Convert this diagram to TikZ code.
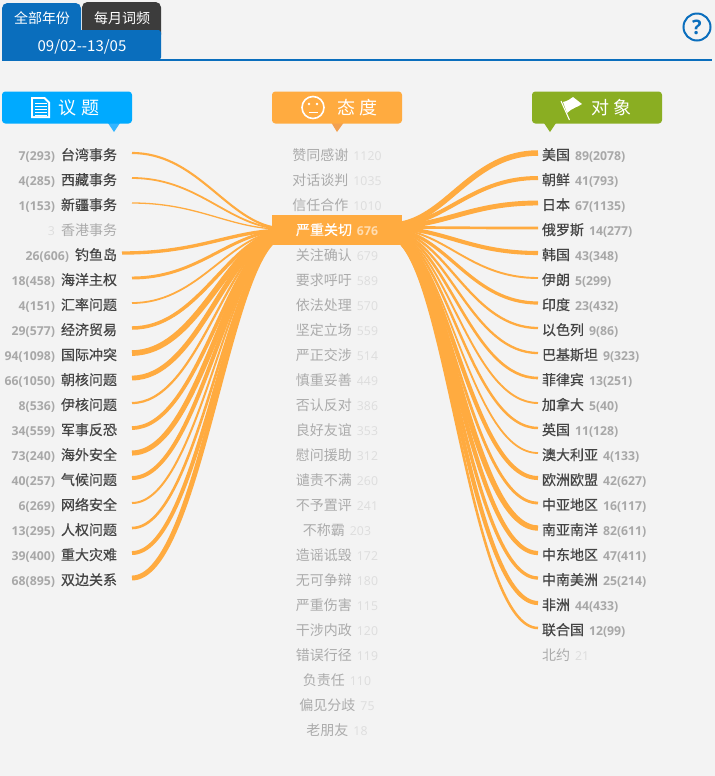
\documentclass[tikz,border=0pt]{standalone}
\usepackage{fontspec}
\setmainfont{Noto Sans CJK SC}
\newfontfamily\cjkb[FakeBold=0.5]{Noto Sans CJK SC}
\newfontfamily\numb{Open Sans}[BoldFont=* Bold]
\definecolor{bg}{HTML}{F3F3F3}
\definecolor{org}{HTML}{FFAB40}
\definecolor{orgd}{HTML}{F2A050}
\definecolor{tabblue}{HTML}{0A6EBD}
\definecolor{tabdark}{HTML}{3C3C3C}
\definecolor{skyb}{HTML}{00AAFF}
\definecolor{skyl}{HTML}{33B5FF}
\definecolor{grn}{HTML}{8AAE22}
\definecolor{darktxt}{HTML}{444444}
\definecolor{midtxt}{HTML}{A8A8A8}
\definecolor{graytxt}{HTML}{ABABAB}
\definecolor{palenum}{HTML}{DDDDDD}
\newcommand{\fs}[1]{\fontsize{#1}{#1}\selectfont}
\newcommand{\lab}[1]{{\cjkb\fs{10.5}\color{darktxt}#1}}
\newcommand{\offlab}[1]{{\fs{10.5}\color{graytxt}#1}}
\newcommand{\num}[1]{{\numb\bfseries\fs{9.2}\color{midtxt}#1}}
\newcommand{\offnum}[1]{{\numb\fs{9.2}\color{palenum}#1}}
\tikzset{
  txt/.style={inner sep=0pt,outer sep=0pt},
  flow/.style={draw=org,line cap=butt},
  head/.style={rounded corners=2.5pt,inner sep=0pt,minimum width=97.5pt,minimum height=24pt,text=white},
  headtxt/.style={txt,text=white,font=\fs{13.5}},
}
\begin{document}
\begin{tikzpicture}[x=0.75pt,y=-0.75pt]
\useasboundingbox (0,0) rectangle (715,776);
\fill[bg] (0,0) rectangle (715,776);
% tabs
\fill[tabblue,rounded corners=4pt] (2,40) -- (2,3) -- (81,3) -- (81,40) -- cycle;
\fill[tabdark,rounded corners=4pt] (82,40) -- (82,2) -- (161,2) -- (161,40) -- cycle;
\fill[tabblue,rounded corners=2pt] (2,60) -- (2,30) -- (161,30) -- (161,60) -- cycle;
\fill[tabblue] (2,40) rectangle (20,60);
\fill[tabblue] (2,59) rectangle (712,61);
\node[txt,text=white,font=\fs{10.5}] (tab1) at (42,18) {全部年份};
\node[txt,text=white,font=\fs{10.5}] (tab2) at (122,18) {每月词频};
\node[txt,text=white,font=\fs{11.25}] (tabd) at (82,46.5) {09/02-{}-13/05};
% help
\draw[tabblue,line width=1.5pt] (697,27) circle[radius=13.5];
\node[txt,text=tabblue,font=\numb\bfseries\fs{15}] (help) at (697,27) {?};
% headers
\fill[skyl] (108,123) -- (120,123) -- (114,132) -- cycle;
\node[head,fill=skyb] (h1) at (67,107.5) {};
\fill[white] (31,97) -- (45,97) -- (50,102) -- (50,118) -- (31,118) -- cycle;
\fill[skyb] (33,99) -- (44,99) -- (48,103) -- (48,116) -- (33,116) -- cycle;
\foreach \yy in {103,106,109,112,114.5} \fill[white] (35,\yy) rectangle (46.5,\yy+1.4);
\node[headtxt,anchor=west] (h1t) at (59,107.5) {议\hspace{3.5pt}题};
\fill[orgd] (331.5,123) -- (343.5,123) -- (337,132) -- cycle;
\node[head,fill=org] (h2) at (337,107.5) {};
\draw[white,line width=1.2pt] (313,107.5) circle[radius=11];
\fill[white] (309,104) circle[radius=1.3] (317,104) circle[radius=1.3];
\fill[white] (308.5,112) rectangle (317.5,113.2);
\node[headtxt,anchor=west] (h2t) at (337,107.5) {态\hspace{3.5pt}度};
\fill[grn] (544,123) -- (556,123) -- (550,132) -- cycle;
\node[head,fill=grn] (h3) at (597,107.5) {};
\draw[white,line width=.8pt] (561,101) -- (569.5,120);
\fill[white] (563,102) .. controls (568,101) and (570,99) .. (573,97) -- (582,104) .. controls (578,107) and (572,108) .. (567,113) -- cycle;
\node[headtxt,anchor=west] (h3t) at (591,107.5) {对\hspace{3.5pt}象};
% centre rows
\node[fill=org,minimum width=97.5pt,minimum height=22.5pt,inner sep=0pt,outer sep=0pt] (hub) at (337,230) {};
\foreach \i/\a/\b in {0/赞同感谢/1120,1/对话谈判/1035,2/信任合作/1010,4/关注确认/679,5/要求呼吁/589,6/依法处理/570,7/坚定立场/559,8/严正交涉/514,9/慎重妥善/449,10/否认反对/386,11/良好友谊/353,12/慰问援助/312,13/谴责不满/260,14/不予置评/241,15/不称霸/203,16/造谣诋毁/172,17/无可争辩/180,18/严重伤害/115,19/干涉内政/120,20/错误行径/119,21/负责任/110,22/偏见分歧/75,23/老朋友/18}{
  \node[txt,anchor=base] (c\i) at (337,160+25*\i) {\offlab{\a}\hspace{3.75pt}\offnum{\b}};
}
% left rows and flows
\foreach \i/\a/\n/\m [evaluate=\i as \yy using 155+25*\i,evaluate=\i as \ye using 227+0.9*\i] in {0/台湾事务/7/293,1/西藏事务/4/285,2/新疆事务/1/153,4/钓鱼岛/26/606,5/海洋主权/18/458,6/汇率问题/4/151,7/经济贸易/29/577,8/国际冲突/94/1098,9/朝核问题/66/1050,10/伊核问题/8/536,11/军事反恐/34/559,12/海外安全/73/240,13/气候问题/40/257,14/网络安全/6/269,15/人权问题/13/295,16/重大灾难/39/400,17/双边关系/68/895}{
  \node[txt,anchor=base east] (l\i) at (117,\yy+5) {\num{\n(\m)}\hspace{4.5pt}\lab{\a}};
  \pgfmathsetmacro{\w}{0.75*(0.8+0.5*sqrt(\n))}
  \pgfmathsetmacro{\st}{\i==4?5:15}
  \pgfmathsetmacro{\cy}{\ye+0.14*(\yy-\ye)}
  \draw[flow,line width=\w pt] ([shift={(\st,-2)}]l\i.base east |- 0,\yy) .. controls (195,\yy-2) and (225,\cy) .. (hub.west |- 0,\ye);
}
\node[txt,anchor=base east] (l3) at (117,235) {\offnum{3}\hspace{4.5pt}\offlab{香港事务}};
% right rows and flows
\foreach \i/\a/\n/\m [evaluate=\i as \yy using 155+25*\i,evaluate=\i as \ye using 224+1.1*\i] in {0/美国/89/2078,1/朝鲜/41/793,2/日本/67/1135,3/俄罗斯/14/277,4/韩国/43/348,5/伊朗/5/299,6/印度/23/432,7/以色列/9/86,8/巴基斯坦/9/323,9/菲律宾/13/251,10/加拿大/5/40,11/英国/11/128,12/澳大利亚/4/133,13/欧洲欧盟/42/627,14/中亚地区/16/117,15/南亚南洋/82/611,16/中东地区/47/411,17/中南美洲/25/214,18/非洲/44/433,19/联合国/12/99}{
  \node[txt,anchor=base west] (r\i) at (542,\yy+5) {\lab{\a}\hspace{3.75pt}\num{\n(\m)}};
  \pgfmathsetmacro{\w}{0.75*(0.8+0.5*sqrt(\n))}
  \pgfmathsetmacro{\cy}{\ye+0.14*(\yy-\ye)}
  \draw[flow,line width=\w pt] (hub.east |- 0,\ye) .. controls (449,\cy) and (474,\yy-2) .. ([shift={(-4,-2)}]r\i.base west |- 0,\yy);
}
\node[txt,anchor=base west] (r20) at (542,660) {\offlab{北约}\hspace{3.75pt}\offnum{21}};
% active hub label
\node[txt,anchor=base] (hubt) at (337,235) {{\cjkb\fs{10.5}\color{white}严重关切}\hspace{3.75pt}{\numb\bfseries\fs{9.2}\color{white!60!org}676}};
\end{tikzpicture}
\end{document}
